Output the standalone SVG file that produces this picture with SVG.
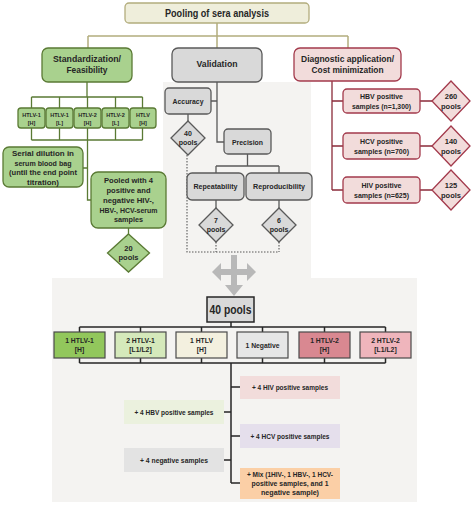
<svg xmlns="http://www.w3.org/2000/svg" width="474" height="506" viewBox="0 0 474 506">
  <defs>
    <style>
      .t { font-family: "Liberation Sans", Arial, sans-serif; font-weight: bold; text-anchor: middle; fill: #262626; }
      .green { fill: #a9d18e; stroke: #5a7a34; stroke-width: 1.3; }
      .gray { fill: #d9d9d9; stroke: #595959; stroke-width: 1.3; }
      .pink { fill: #f2dcdb; stroke: #a33a4c; stroke-width: 1.3; }
      .row { stroke: #4a4a4a; stroke-width: 1.2; }
      .flat { stroke: none; }
      .c-top { fill: none; stroke: #b3ad7d; stroke-width: 1.5; }
      .c-green { fill: none; stroke: #5a7a34; stroke-width: 1.3; }
      .c-gray { fill: none; stroke: #595959; stroke-width: 1.3; }
      .c-dot { fill: none; stroke: #595959; stroke-width: 1.1; stroke-dasharray: 1.5 1.5; }
      .c-red { fill: none; stroke: #8b2b3a; stroke-width: 1.3; }
      .c-black { fill: none; stroke: #262626; stroke-width: 1.5; }
      .arrow { fill: #b8b8b8; }
    </style>
  </defs>

  <!-- shaded panels behind validation and the 40-pool design -->
  <g id="panels">
    <rect x="163" y="82" width="148" height="196" fill="#f4f3f1"/>
    <rect x="52" y="278" width="365" height="224" fill="#f4f3f1"/>
  </g>

  <!-- connectors -->
  <g id="connectors">
    <path class="c-top" d="M217 23 V36 M88 36 H348 M88 36 V48 M217 36 V48 M348 36 V48"/>
    <path class="c-green" d="M87 82 V97 M31.5 97 H142.5 M31.5 97 V108 M59.5 97 V108 M87.5 97 V108 M115.5 97 V108 M142.5 97 V108"/>
    <path class="c-green" d="M31.5 128 V140 M59.5 128 V140 M87.5 128 V140 M115.5 128 V140 M142.5 128 V140 M31.5 140 H142.5 M87.5 140 V200 H91 M83 168 H87.5 M128.5 228 V234"/>
    <path class="c-dot" d="M187 155 V252 H279 M216 242 V252 M279 242 V252"/>
    <path class="c-gray" d="M217 82 V142 H224 M211 101 H217 M188 114 V121 M247.5 154 V166 M216 166 H279 M216 166 V173 M279 166 V173 M216 200 V208 M279 200 V208"/>
    <path class="c-red" d="M332 81 V190 M332 101 H343 M332 146 H343 M332 190 H343 M420 101 H432 M420 146 H432 M420 190 H432"/>
    <path class="c-black" d="M231 322 V327 M79.5 327 H385.5 M79.5 327 V332 M140.5 327 V332 M201.5 327 V332 M262.5 327 V332 M324.5 327 V332 M385.5 327 V332"/>
    <path class="c-black" d="M79.5 358 V363 M140.5 358 V363 M201.5 358 V363 M262.5 358 V363 M324.5 358 V363 M385.5 358 V363 M79.5 363 H385.5 M231 363 V483 M231 387 H240 M231 436 H240 M231 483 H240 M224 412 H231 M224 460 H231"/>
  </g>

  <!-- four-way arrow between the panels -->
  <g id="cross-arrow">
    <rect class="arrow" x="231" y="255" width="6" height="31"/>
    <polygon class="arrow" points="225,285 243,285 234,296"/>
    <rect class="arrow" x="219" y="269" width="30" height="6"/>
    <polygon class="arrow" points="221,263 221,281 212,272"/>
    <polygon class="arrow" points="247,263 247,281 256,272"/>
  </g>

  <g id="title">
    <rect x="125" y="3" width="184" height="20" rx="4" fill="#efeedb" stroke="#b3ad7d" stroke-width="1.3"/>
    <text class="t" x="217" y="17" font-size="11" textLength="104" lengthAdjust="spacingAndGlyphs">Pooling of sera analysis</text>
  </g>

  <!-- standardization branch -->
  <g id="standardization">
    <rect class="green" x="42" y="48" width="90" height="34" rx="6"/>
    <text class="t" x="87" y="62" font-size="9.5" textLength="68" lengthAdjust="spacingAndGlyphs">Standardization/</text>
    <text class="t" x="87" y="73" font-size="9.5" textLength="41" lengthAdjust="spacingAndGlyphs">Feasibility</text>
  </g>
  <g id="htlv1-h">
    <rect class="green" x="18" y="108" width="27" height="20" rx="3"/>
    <text class="t" x="31.5" y="117" font-size="5.5">HTLV-1</text>
    <text class="t" x="31.5" y="124.5" font-size="5.5">[H]</text>
  </g>
  <g id="htlv1-l">
    <rect class="green" x="46" y="108" width="27" height="20" rx="3"/>
    <text class="t" x="59.5" y="117" font-size="5.5">HTLV-1</text>
    <text class="t" x="59.5" y="124.5" font-size="5.5">[L]</text>
  </g>
  <g id="htlv2-h">
    <rect class="green" x="74" y="108" width="27" height="20" rx="3"/>
    <text class="t" x="87.5" y="117" font-size="5.5">HTLV-2</text>
    <text class="t" x="87.5" y="124.5" font-size="5.5">[H]</text>
  </g>
  <g id="htlv2-l">
    <rect class="green" x="102" y="108" width="27" height="20" rx="3"/>
    <text class="t" x="115.5" y="117" font-size="5.5">HTLV-2</text>
    <text class="t" x="115.5" y="124.5" font-size="5.5">[L]</text>
  </g>
  <g id="htlv-h">
    <rect class="green" x="130" y="108" width="26" height="20" rx="3"/>
    <text class="t" x="143" y="117" font-size="5.5">HTLV</text>
    <text class="t" x="143" y="124.5" font-size="5.5">[H]</text>
  </g>
  <g id="serial-dilution">
    <rect class="green" x="3" y="147" width="80" height="40" rx="6"/>
    <text class="t" x="43" y="156" font-size="7.8" textLength="62" lengthAdjust="spacingAndGlyphs">Serial dilution in</text>
    <text class="t" x="43" y="165.5" font-size="7.8" textLength="57" lengthAdjust="spacingAndGlyphs">serum blood bag</text>
    <text class="t" x="43" y="175" font-size="7.8" textLength="68" lengthAdjust="spacingAndGlyphs">(until the end point</text>
    <text class="t" x="43" y="184.5" font-size="7.8" textLength="32" lengthAdjust="spacingAndGlyphs">titration)</text>
  </g>
  <g id="pooled-with-4">
    <rect class="green" x="91" y="172" width="75" height="56" rx="7"/>
    <text class="t" x="128.5" y="183" font-size="7.8" textLength="49" lengthAdjust="spacingAndGlyphs">Pooled with 4</text>
    <text class="t" x="128.5" y="193" font-size="7.8" textLength="44" lengthAdjust="spacingAndGlyphs">positive and</text>
    <text class="t" x="128.5" y="203" font-size="7.8" textLength="51" lengthAdjust="spacingAndGlyphs">negative HIV-,</text>
    <text class="t" x="128.5" y="212.5" font-size="7.8" textLength="58" lengthAdjust="spacingAndGlyphs">HBV-, HCV-serum</text>
    <text class="t" x="128.5" y="222" font-size="7.8" textLength="29" lengthAdjust="spacingAndGlyphs">samples</text>
  </g>
  <g id="pools-20">
    <polygon class="green" points="128.5,234 149.5,253 128.5,272 107.5,253"/>
    <text class="t" x="128.5" y="251" font-size="7.5">20</text>
    <text class="t" x="128.5" y="260" font-size="7.5">pools</text>
  </g>

  <!-- validation branch -->
  <g id="validation">
    <rect class="gray" x="172" y="48" width="90" height="34" rx="6"/>
    <text class="t" x="217" y="67" font-size="9.5" textLength="41" lengthAdjust="spacingAndGlyphs">Validation</text>
  </g>
  <g id="accuracy">
    <rect class="gray" x="165" y="88" width="46" height="26" rx="4"/>
    <text class="t" x="188" y="104" font-size="8" textLength="31" lengthAdjust="spacingAndGlyphs">Accuracy</text>
  </g>
  <g id="pools-40-accuracy">
    <polygon class="gray" points="188,121 205,138 188,155 171,138"/>
    <text class="t" x="188" y="136" font-size="7">40</text>
    <text class="t" x="188" y="144.5" font-size="7">pools</text>
  </g>
  <g id="precision">
    <rect class="gray" x="224" y="129" width="47" height="25" rx="4"/>
    <text class="t" x="247.5" y="144.5" font-size="8" textLength="31" lengthAdjust="spacingAndGlyphs">Precision</text>
  </g>
  <g id="repeatability">
    <rect class="gray" x="187" y="173" width="57" height="27" rx="5"/>
    <text class="t" x="215.5" y="189" font-size="8" textLength="44" lengthAdjust="spacingAndGlyphs">Repeatability</text>
  </g>
  <g id="reproducibility">
    <rect class="gray" x="246" y="173" width="66" height="27" rx="5"/>
    <text class="t" x="279" y="189" font-size="8" textLength="52" lengthAdjust="spacingAndGlyphs">Reproducibility</text>
  </g>
  <g id="pools-7">
    <polygon class="gray" points="216,208 233,225 216,242 199,225"/>
    <text class="t" x="216" y="223" font-size="7">7</text>
    <text class="t" x="216" y="231.5" font-size="7">pools</text>
  </g>
  <g id="pools-6">
    <polygon class="gray" points="279,208 296,225 279,242 262,225"/>
    <text class="t" x="279" y="223" font-size="7">6</text>
    <text class="t" x="279" y="231.5" font-size="7">pools</text>
  </g>

  <!-- diagnostic branch -->
  <g id="diagnostic">
    <rect class="pink" x="294" y="48" width="107" height="33" rx="6"/>
    <text class="t" x="347.5" y="62" font-size="9.5" textLength="93" lengthAdjust="spacingAndGlyphs">Diagnostic application/</text>
    <text class="t" x="347.5" y="73" font-size="9.5" textLength="72" lengthAdjust="spacingAndGlyphs">Cost minimization</text>
  </g>
  <g id="hbv-samples">
    <rect class="pink" x="343" y="89" width="77" height="24" rx="4"/>
    <text class="t" x="381.5" y="99" font-size="7" textLength="43" lengthAdjust="spacingAndGlyphs">HBV positive</text>
    <text class="t" x="381.5" y="109" font-size="7" textLength="59" lengthAdjust="spacingAndGlyphs">samples (n=1,300)</text>
  </g>
  <g id="hcv-samples">
    <rect class="pink" x="343" y="133" width="77" height="26" rx="4"/>
    <text class="t" x="381.5" y="144" font-size="7" textLength="43" lengthAdjust="spacingAndGlyphs">HCV positive</text>
    <text class="t" x="381.5" y="154" font-size="7" textLength="55" lengthAdjust="spacingAndGlyphs">samples (n=700)</text>
  </g>
  <g id="hiv-samples">
    <rect class="pink" x="343" y="177" width="77" height="26" rx="4"/>
    <text class="t" x="381.5" y="188" font-size="7" textLength="40" lengthAdjust="spacingAndGlyphs">HIV positive</text>
    <text class="t" x="381.5" y="198" font-size="7" textLength="55" lengthAdjust="spacingAndGlyphs">samples (n=625)</text>
  </g>
  <g id="pools-260">
    <polygon class="pink" points="451,81 470,101 451,121 432,101"/>
    <text class="t" x="451" y="99" font-size="7.5">260</text>
    <text class="t" x="451" y="109" font-size="7.5">pools</text>
  </g>
  <g id="pools-140">
    <polygon class="pink" points="451,126 470,146 451,166 432,146"/>
    <text class="t" x="451" y="144" font-size="7.5">140</text>
    <text class="t" x="451" y="154" font-size="7.5">pools</text>
  </g>
  <g id="pools-125">
    <polygon class="pink" points="451,170 470,190 451,210 432,190"/>
    <text class="t" x="451" y="188" font-size="7.5">125</text>
    <text class="t" x="451" y="198" font-size="7.5">pools</text>
  </g>

  <!-- 40-pool panel design -->
  <g id="pools-40">
    <rect x="207" y="297" width="47" height="25" fill="#d9d9d9" stroke="#262626" stroke-width="1.5"/>
    <text class="t" x="230.5" y="314" font-size="13" font-weight="normal" textLength="42" lengthAdjust="spacingAndGlyphs">40 pools</text>
  </g>
  <g id="row-htlv1-h">
    <rect class="row" x="54" y="332" width="51" height="26" fill="#92c75c"/>
    <text class="t" x="79.5" y="342.5" font-size="6.8">1 HTLV-1</text>
    <text class="t" x="79.5" y="351.5" font-size="6.8">[H]</text>
  </g>
  <g id="row-htlv1-l">
    <rect class="row" x="115" y="332" width="51" height="26" fill="#d5e9bb"/>
    <text class="t" x="140.5" y="342.5" font-size="6.8">2 HTLV-1</text>
    <text class="t" x="140.5" y="351.5" font-size="6.8">[L1/L2]</text>
  </g>
  <g id="row-htlv-h">
    <rect class="row" x="176" y="332" width="51" height="26" fill="#f3f0df"/>
    <text class="t" x="201.5" y="342.5" font-size="6.8">1 HTLV</text>
    <text class="t" x="201.5" y="351.5" font-size="6.8">[H]</text>
  </g>
  <g id="row-negative">
    <rect class="row" x="237" y="332" width="51" height="26" fill="#e6e6e6"/>
    <text class="t" x="262.5" y="347.5" font-size="6.8">1 Negative</text>
  </g>
  <g id="row-htlv2-h">
    <rect class="row" x="299" y="332" width="51" height="26" fill="#d98891"/>
    <text class="t" x="324.5" y="342.5" font-size="6.8">1 HTLV-2</text>
    <text class="t" x="324.5" y="351.5" font-size="6.8">[H]</text>
  </g>
  <g id="row-htlv2-l">
    <rect class="row" x="360" y="332" width="51" height="26" fill="#efb5bc"/>
    <text class="t" x="385.5" y="342.5" font-size="6.8">2 HTLV-2</text>
    <text class="t" x="385.5" y="351.5" font-size="6.8">[L1/L2]</text>
  </g>

  <g id="add-hiv">
    <rect class="flat" x="240" y="376" width="100" height="23" fill="#f2dcdb"/>
    <text class="t" x="290" y="390" font-size="7.3" textLength="76" lengthAdjust="spacingAndGlyphs">+ 4 HIV positive samples</text>
  </g>
  <g id="add-hbv">
    <rect class="flat" x="124" y="400" width="100" height="24" fill="#ebf1de"/>
    <text class="t" x="174" y="414.5" font-size="7.3" textLength="79" lengthAdjust="spacingAndGlyphs">+ 4 HBV positive samples</text>
  </g>
  <g id="add-hcv">
    <rect class="flat" x="240" y="424" width="100" height="24" fill="#e5dfec"/>
    <text class="t" x="290" y="438.5" font-size="7.3" textLength="79" lengthAdjust="spacingAndGlyphs">+ 4 HCV positive samples</text>
  </g>
  <g id="add-negative">
    <rect class="flat" x="124" y="448" width="100" height="24" fill="#e3e3e3"/>
    <text class="t" x="174" y="462.5" font-size="7.3" textLength="68" lengthAdjust="spacingAndGlyphs">+ 4 negative samples</text>
  </g>
  <g id="add-mix">
    <rect class="flat" x="240" y="468" width="100" height="31" fill="#fbcfa6"/>
    <text class="t" x="290" y="477" font-size="7.3" textLength="86" lengthAdjust="spacingAndGlyphs">+ Mix (1HIV-, 1 HBV-, 1 HCV-</text>
    <text class="t" x="290" y="486" font-size="7.3" textLength="77" lengthAdjust="spacingAndGlyphs">positive samples, and 1</text>
    <text class="t" x="290" y="495" font-size="7.3" textLength="58" lengthAdjust="spacingAndGlyphs">negative sample)</text>
  </g>
</svg>
